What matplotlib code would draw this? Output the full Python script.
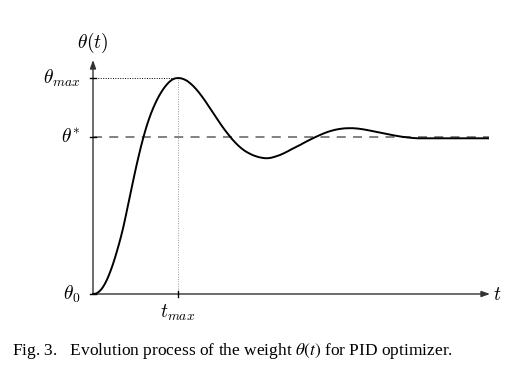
import matplotlib
matplotlib.use('Agg')
import matplotlib.pyplot as plt

t_vals = [0, 2, 4, 6, 8, 10, 12, 14, 16, 18, 20, 22, 24, 26, 28, 30, 32, 34, 36, 38,
          40, 42, 44, 46, 48, 50, 52, 54, 56, 58, 60, 62, 64, 66, 68, 70, 72, 74, 76, 78,
          80, 82, 85, 88, 91, 94, 97, 100, 103, 106, 109, 112, 115, 118, 121, 124, 127,
          130, 133, 136, 139, 142, 145, 148, 151, 154, 157, 160, 163, 166, 169, 172, 175,
          178, 181, 184, 187, 191, 195, 199, 203, 207, 211, 215, 219, 223, 227, 231, 235,
          239, 243, 247, 251, 255, 260, 265, 270, 275, 280, 285, 290, 295, 300, 305, 310,
          315, 320, 325, 395]
theta_vals = [0, 0.2, 0.9, 2.3, 4.3, 7.0, 10.4, 14.4, 19.1, 24.3, 30.0, 36.3, 43.0, 50.0,
              57.5, 65.5, 74.5, 84.0, 93.5, 103.0, 112.5, 121.8, 130.8, 139.3, 147.5, 155.2,
              162.4, 169.0, 175.0, 180.5, 185.5, 190.0, 194.2, 198.0, 201.4, 204.5, 207.3,
              209.7, 211.8, 213.5, 214.8, 215.6, 216.0, 215.7, 214.7, 213.2, 210.9, 208.2,
              205.0, 201.4, 197.5, 193.3, 188.8, 184.3, 179.8, 175.3, 170.8, 166.5, 162.5,
              158.7, 155.0, 151.7, 148.7, 146.0, 143.7, 141.8, 140.2, 138.8, 137.7, 136.8,
              136.2, 135.8, 135.8, 136.2, 137.0, 138.0, 139.0, 140.8, 142.8, 145.0, 147.0,
              149.0, 151.2, 153.3, 155.3, 157.2, 159.0, 160.7, 162.2, 163.4, 164.4, 165.1,
              165.6, 165.8, 165.8, 165.4, 164.7, 163.8, 162.8, 161.8, 160.8, 159.8, 158.8,
              157.9, 157.1, 156.5, 156.0, 155.7, 155.7]

theta_star = 157
theta_max = 216
t_max = 85
t_end = 397
theta_top = 234

y_labels = [r'$\theta_{max}$', r'$\theta^{*}$', r'$\theta_0$']
y_label_pos = [theta_max, theta_star, 0]

fig = plt.figure(figsize=(5.05, 3.85), dpi=100)
ax = fig.add_axes([0, 0, 1, 1])
ax.set_xlim(-93, 412)
ax.set_ylim(-91, 294)
ax.axis('off')

axis_col = '#333333'
arrow = dict(arrowstyle='-|>,head_length=0.5,head_width=0.18',
             color=axis_col, lw=1.0, shrinkA=0, shrinkB=0)
ax.annotate('', xy=(t_end, 0), xytext=(0, 0), arrowprops=arrow)
ax.annotate('', xy=(0, theta_top), xytext=(0, 0), arrowprops=arrow)

# reference lines
ax.plot([0, 396], [theta_star, theta_star], color='#777777', lw=1.3,
        dashes=(5, 4), zorder=2)
ax.plot([0, t_max], [theta_max, theta_max], color='black', lw=0.7,
        ls=(0, (1, 1.5)), zorder=2)
ax.plot([t_max, t_max], [0, theta_max], color='#999999', lw=0.7,
        ls=(0, (1, 1.5)), zorder=2)

# small ticks
for yv in y_label_pos:
    ax.plot([-3, 3], [yv, yv], color='black', lw=1.0, zorder=3)
ax.plot([t_max, t_max], [-3, 3], color='black', lw=1.0, zorder=3)

# the response curve
ax.plot(t_vals, theta_vals, color='black', lw=1.4, zorder=4)

# labels
mkw = dict(math_fontfamily='cm', fontsize=14)
for lab, yv in zip(y_labels, y_label_pos):
    ax.text(-13, yv, lab, ha='right', va='center', **mkw)
ax.text(0, 251, r'$\theta(t)$', ha='center', va='center', **mkw)
ax.text(t_max, -19, r'$t_{max}$', ha='center', va='center', **mkw)
ax.text(400, 0, r'$t$', ha='left', va='center', **mkw)

# caption
fig.text(12 / 505, 1 - 351 / 385,
         r'Fig. 3.   Evolution process of the weight $\theta(t)$ for PID optimizer.',
         fontfamily='Liberation Serif', math_fontfamily='stix', fontsize=12.5,
         ha='left', va='center')

fig.savefig('out.png', dpi=100)
